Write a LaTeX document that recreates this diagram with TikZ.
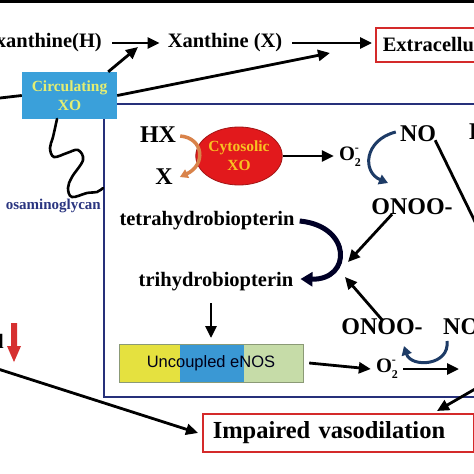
\documentclass[tikz,border=0pt]{standalone}
\usepackage{fontspec}
\setmainfont{Liberation Serif}
\newfontfamily\sansf{Liberation Sans}
\usetikzlibrary{arrows.meta,shapes.geometric}
\definecolor{circblue}{HTML}{3AA0DA}
\definecolor{circtxt}{HTML}{E4EE72}
\definecolor{cytored}{HTML}{E2191C}
\definecolor{cytoedge}{HTML}{A31515}
\definecolor{cytotxt}{HTML}{F8C222}
\definecolor{framenavy}{HTML}{26307A}
\definecolor{curvenavy}{HTML}{1D3B66}
\definecolor{orangearr}{HTML}{D9834A}
\definecolor{boxred}{HTML}{D42A2A}
\definecolor{glytxt}{HTML}{2A3580}
\definecolor{baryel}{HTML}{E5E13F}
\definecolor{barblue}{HTML}{3A98D4}
\definecolor{bargreen}{HTML}{C6DCA8}
\definecolor{downred}{HTML}{D63030}
\newcommand{\otwo}{O\rlap{\raisebox{-0.3em}{\fontsize{12}{12}\selectfont 2}}\raisebox{0.45em}{\fontsize{12}{12}\selectfont -}}
\begin{document}
\begin{tikzpicture}[x=1pt,y=-1pt,
  txt/.style={font=\fontsize{20.5}{22}\selectfont\bfseries, inner sep=1pt},
  bigtxt/.style={font=\fontsize{24}{26}\selectfont\bfseries, inner sep=1pt},
  arr/.style={line width=2.8pt, -{Triangle[length=12pt,width=11pt]}},
  plainline/.style={line width=2.8pt},
  redbox/.style={draw=boxred, line width=1.6pt, fill=white},
  curvearr/.style={line width=3pt, curvenavy, -{Triangle[length=9pt,width=10pt]}}
]
\useasboundingbox (0,0) rectangle (474,474);
\clip (0,0) rectangle (474,474);
\fill[white] (0,0) rectangle (474,474);
\fill[black] (0,0) rectangle (474,3);

% frame
\draw[framenavy, line width=2pt] (104,104) rectangle (490,397);

% top row
\node[txt, anchor=east] (hxa) at (103,43) {xanthine(H)};
\node[txt] (xan) at (225,43) {Xanthine (X)};
\node[redbox, anchor=west, minimum height=34pt, text width=120pt, inner xsep=7pt, align=left, font=\fontsize{20.5}{22}\selectfont\bfseries] (ext) at (375,45) {Extracellular};
\draw[arr] ([xshift=9pt]hxa.east) -- ([xshift=-7pt]xan.west);
\draw[arr] ([xshift=9pt]xan.east) -- ([xshift=-3pt]ext.west |- xan.east);
\coordinate (m1) at (138,47);
\coordinate (m2) at (330,53);
\coordinate (lft) at (0,98);

% circulating XO
\node[fill=circblue, minimum width=95pt, minimum height=47pt, inner sep=0pt, align=center,
  text=circtxt, font=\fontsize{15.5}{19}\selectfont\bfseries] (cxo) at (69.5,95.5) {Circulating\\XO};
\draw[plainline] (lft) -- (cxo.west);
\draw[arr] ([xshift=-9pt]cxo.north east) -- (m1);
\draw[arr] (cxo.east) -- (m2);

% glycosaminoglycan squiggle
\draw[line width=2.6pt, line cap=round] plot[smooth, tension=0.6] coordinates
 {(57,119) (53,137) (50,148) (54,157) (67,153) (78,150) (83,160) (72,177) (68,188) (72,197) (87,193) (97,192) (103,188)};
\node[anchor=east, text=glytxt, font=\fontsize{15}{16}\selectfont\bfseries, inner sep=0pt] (gly) at (101,206) {osaminoglycan};

% cytosolic part
\node[bigtxt] (hx) at (158,135) {HX};
\node[bigtxt] (xx) at (164,177) {X};
\node[ellipse, fill=cytored, draw=cytoedge, line width=0.8pt, minimum width=78pt, minimum height=58pt,
  inner sep=0pt, align=center, text=cytotxt, font=\fontsize{15.5}{19}\selectfont\bfseries] (cyto) at (239,156) {Cytosolic\\XO};
\draw[line width=3.5pt, orangearr, -{Triangle[length=8pt,width=9pt]}] ([xshift=3pt,yshift=-1pt]hx.east) .. controls (204,138) and (206,165) .. ([xshift=6pt]xx.east);
\node[txt] (o2a) at (349,157) {\otwo};
\draw[arr] (cyto.east) -- ([xshift=-4pt]o2a.west |- cyto.east);
\node[bigtxt] (no1) at (418,134) {NO};
\node[bigtxt, anchor=west] (edge1) at (468,132) {E};
\draw[curvearr] ([xshift=-3pt,yshift=2pt]no1.west) .. controls (364,140) and (362,172) .. (388,183);
\coordinate (nofar) at (482,236);
\draw[plainline] ([xshift=-2pt,yshift=3pt]no1.south east) -- (nofar);
\node[bigtxt] (onoo1) at (412,207) {ONOO-};
\coordinate (junc1) at (348,262);
\draw[arr] ([xshift=-20pt,yshift=2pt]onoo1.south) -- (junc1);

% pterins
\node[txt] (tetra) at (207,221) {tetrahydrobiopterin};
\node[txt] (tri) at (216,282) {trihydrobiopterin};
\draw[line width=5pt, black!85!blue, -{Triangle[length=12pt,width=14pt]}] ([xshift=4pt]tetra.east) .. controls (352,226) and (352,280) .. ([xshift=6pt,yshift=3pt]tri.east);

% eNOS bar
\fill[baryel] (119,344) rectangle (180,382);
\fill[barblue] (180,344) rectangle (244,382);
\fill[bargreen] (244,344) rectangle (303,382);
\draw[bargreen!70!black, line width=0.5pt] (119,344) rectangle (303,382);
\node[font=\sansf\fontsize{16.5}{18}\selectfont, text=black!90!blue, inner sep=0pt, minimum width=184pt, minimum height=38pt] (enos) at (211,363) {Uncoupled eNOS};
\coordinate (enosin) at (211,338);
\draw[arr] (211,303) -- (enosin);

% lower right
\node[txt] (o2b) at (386,369) {\otwo};
\draw[arr] ([xshift=6pt]enos.east) -- ([xshift=-4pt]o2b.west);
\coordinate (o2far) at (459,369);
\draw[arr] ([xshift=6pt]o2b.east) -- (o2far);
\node[bigtxt] (onoo2) at (382,327) {ONOO-};
\node[bigtxt, anchor=west] (no2) at (442,327) {NO};
\draw[curvearr] (447,341) .. controls (450,366) and (411,368) .. (404,346);
\coordinate (junc2) at (345,277);
\draw[arr] ([yshift=-2pt]onoo2.north) -- (junc2);

% impaired
\node[redbox, anchor=west, minimum height=38pt, text width=251pt, inner xsep=10pt, align=left,
  font=\fontsize{24.5}{26}\selectfont\bfseries] (imp) at (202,433) {Impaired vasodilation};
\coordinate (rgt) at (482,385);
\draw[arr] (rgt) -- (437,411);
\coordinate (lft2) at (-2,369);
\draw[arr] (lft2) -- ([xshift=-4pt]imp.west);

% left partial items
\fill[downred] (11,323) -- (17,323) -- (17,346) -- (21,346) -- (14,362) -- (7,346) -- (11,346) -- cycle;
\node[txt, anchor=east, inner sep=0pt] (leftglyph) at (4,341) {l};
\end{tikzpicture}
\end{document}
